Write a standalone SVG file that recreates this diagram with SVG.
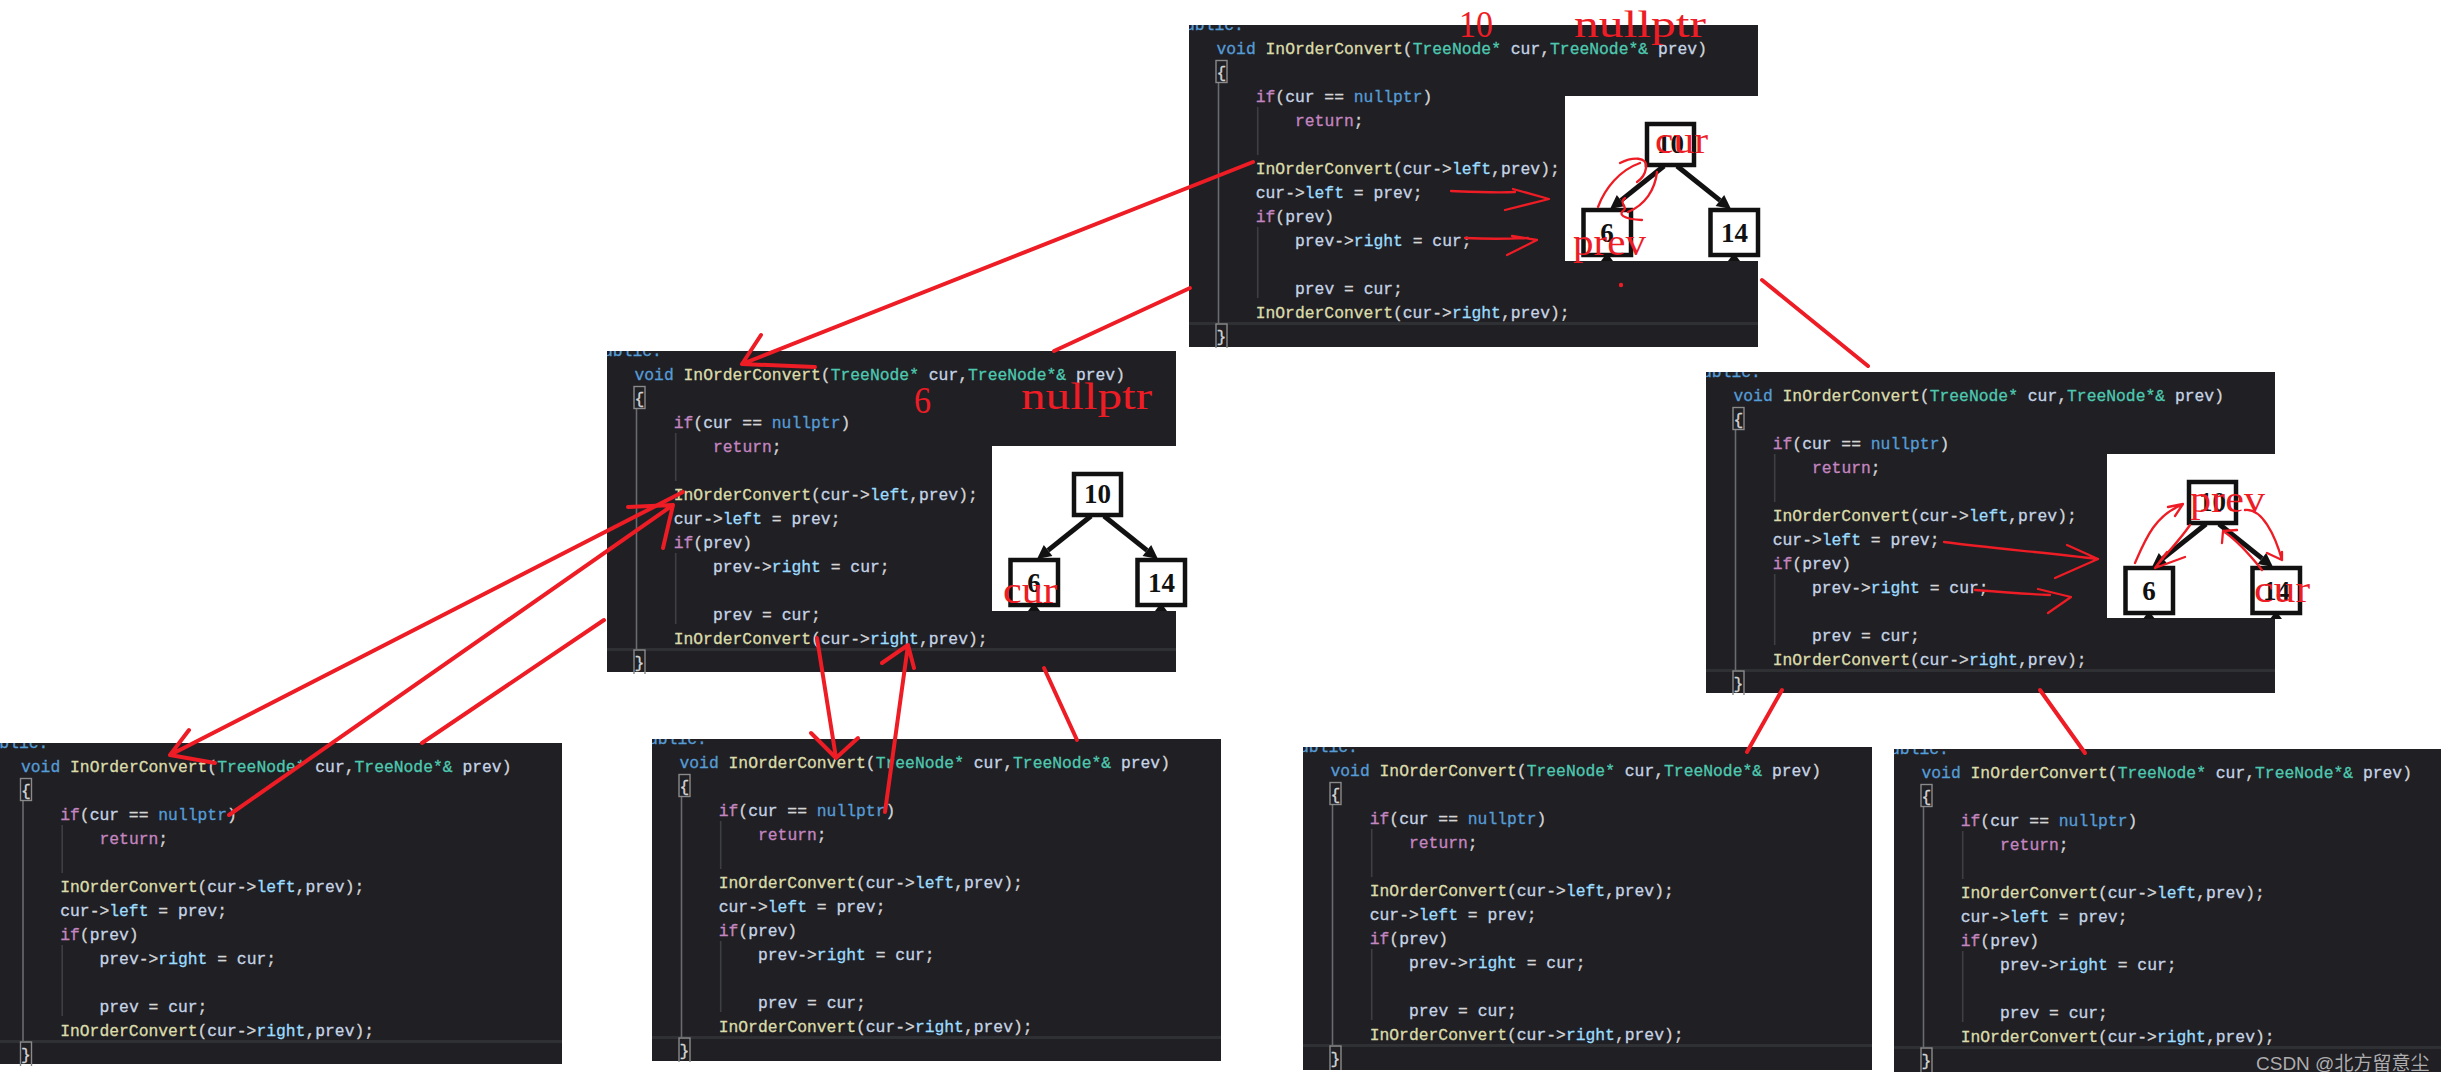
<svg xmlns="http://www.w3.org/2000/svg" width="2444" height="1083" viewBox="0 0 2444 1083">
<style>
.bg{fill:#1f1f24}
.c{font-family:"Liberation Mono",monospace;font-size:16.35px;fill:#d4d4d4;stroke:#d4d4d4;stroke-width:0.3;white-space:pre}
.k{fill:#c586c0;stroke:#c586c0}.b{fill:#569cd6;stroke:#569cd6}.f{fill:#dcdcaa;stroke:#dcdcaa}.t{fill:#4ec9b0;stroke:#4ec9b0}.v{fill:#c6d4e6;stroke:#c6d4e6}.m{fill:#9cdcfe;stroke:#9cdcfe}
.hl{fill:#2f3034}
.g1{stroke:#6a6b6e;stroke-width:1.6}
.g2{stroke:#3e3f43;stroke-width:1.6}
.br{fill:none;stroke:#8a8a8a;stroke-width:1.4}
.timg{fill:#ffffff}
.tbox{fill:#ffffff;stroke:#111;stroke-width:4.5}
.tedge{stroke:#111;stroke-width:5}
.tnum{font-family:"Liberation Serif",serif;font-weight:bold;font-size:27px;fill:#111;text-anchor:middle}
.red{fill:none;stroke:#ee1c24;stroke-width:4;stroke-linecap:round;stroke-linejoin:round}
.redt{fill:none;stroke:#ee1c24;stroke-width:2.3;stroke-linecap:round;stroke-linejoin:round}
.rt{font-family:"Liberation Serif",serif;font-size:38px;fill:#ee1c24}
.wm{font-family:"Liberation Sans","Noto Sans CJK SC",sans-serif;font-size:19px;fill:#c8c8c8;fill-opacity:0.85}
</style>
<defs>
<clipPath id="cp"><rect x="0" y="0" width="570" height="323"/></clipPath>
</defs>
<rect width="2444" height="1083" fill="#ffffff"/>

<g id="panel-1" transform="translate(1189,25)">
<rect class="bg" width="569" height="322"/>
<g clip-path="url(#cp)">
<text class="c b" x="-4" y="5">ublic:</text>
<rect class="hl" x="0" y="297" width="569" height="3"/>
<line class="g1" x1="29.5" y1="57.5" x2="29.5" y2="298"/>
<line class="g2" x1="68.7" y1="82" x2="68.7" y2="130"/>
<line class="g2" x1="68.7" y1="202" x2="68.7" y2="273"/>
<rect class="br" x="27" y="35.5" width="11" height="22"/>
<rect class="br" x="27" y="299" width="11" height="30"/>
<text class="c" x="27.5" y="28.5"><tspan class="b">void</tspan> <tspan class="f">InOrderConvert</tspan>(<tspan class="t">TreeNode*</tspan> <tspan class="v">cur</tspan>,<tspan class="t">TreeNode*&amp;</tspan> <tspan class="v">prev</tspan>)</text>
<text class="c" x="27.5" y="52.5">{</text>
<text class="c" x="66.7" y="76.5"><tspan class="k">if</tspan>(<tspan class="v">cur</tspan> == <tspan class="b">nullptr</tspan>)</text>
<text class="c" x="106" y="100.5"><tspan class="k">return</tspan>;</text>
<text class="c" x="66.7" y="148.5"><tspan class="f">InOrderConvert</tspan>(<tspan class="v">cur</tspan>-&gt;<tspan class="m">left</tspan>,<tspan class="v">prev</tspan>);</text>
<text class="c" x="66.7" y="172.5"><tspan class="v">cur</tspan>-&gt;<tspan class="m">left</tspan> = <tspan class="v">prev</tspan>;</text>
<text class="c" x="66.7" y="196.5"><tspan class="k">if</tspan>(<tspan class="v">prev</tspan>)</text>
<text class="c" x="106" y="220.5"><tspan class="v">prev</tspan>-&gt;<tspan class="m">right</tspan> = <tspan class="v">cur</tspan>;</text>
<text class="c" x="106" y="268.5"><tspan class="v">prev</tspan> = <tspan class="v">cur</tspan>;</text>
<text class="c" x="66.7" y="292.5"><tspan class="f">InOrderConvert</tspan>(<tspan class="v">cur</tspan>-&gt;<tspan class="m">right</tspan>,<tspan class="v">prev</tspan>);</text>
<text class="c" x="27.5" y="316.5">}</text>
</g>
</g>

<g id="panel-2" transform="translate(607,351)">
<rect class="bg" width="569" height="321"/>
<g clip-path="url(#cp)">
<text class="c b" x="-4" y="5">ublic:</text>
<rect class="hl" x="0" y="297" width="569" height="3"/>
<line class="g1" x1="29.5" y1="57.5" x2="29.5" y2="298"/>
<line class="g2" x1="68.7" y1="82" x2="68.7" y2="130"/>
<line class="g2" x1="68.7" y1="202" x2="68.7" y2="273"/>
<rect class="br" x="27" y="35.5" width="11" height="22"/>
<rect class="br" x="27" y="299" width="11" height="30"/>
<text class="c" x="27.5" y="28.5"><tspan class="b">void</tspan> <tspan class="f">InOrderConvert</tspan>(<tspan class="t">TreeNode*</tspan> <tspan class="v">cur</tspan>,<tspan class="t">TreeNode*&amp;</tspan> <tspan class="v">prev</tspan>)</text>
<text class="c" x="27.5" y="52.5">{</text>
<text class="c" x="66.7" y="76.5"><tspan class="k">if</tspan>(<tspan class="v">cur</tspan> == <tspan class="b">nullptr</tspan>)</text>
<text class="c" x="106" y="100.5"><tspan class="k">return</tspan>;</text>
<text class="c" x="66.7" y="148.5"><tspan class="f">InOrderConvert</tspan>(<tspan class="v">cur</tspan>-&gt;<tspan class="m">left</tspan>,<tspan class="v">prev</tspan>);</text>
<text class="c" x="66.7" y="172.5"><tspan class="v">cur</tspan>-&gt;<tspan class="m">left</tspan> = <tspan class="v">prev</tspan>;</text>
<text class="c" x="66.7" y="196.5"><tspan class="k">if</tspan>(<tspan class="v">prev</tspan>)</text>
<text class="c" x="106" y="220.5"><tspan class="v">prev</tspan>-&gt;<tspan class="m">right</tspan> = <tspan class="v">cur</tspan>;</text>
<text class="c" x="106" y="268.5"><tspan class="v">prev</tspan> = <tspan class="v">cur</tspan>;</text>
<text class="c" x="66.7" y="292.5"><tspan class="f">InOrderConvert</tspan>(<tspan class="v">cur</tspan>-&gt;<tspan class="m">right</tspan>,<tspan class="v">prev</tspan>);</text>
<text class="c" x="27.5" y="316.5">}</text>
</g>
</g>

<g id="panel-3" transform="translate(1706,372)">
<rect class="bg" width="569" height="321"/>
<g clip-path="url(#cp)">
<text class="c b" x="-4" y="5">ublic:</text>
<rect class="hl" x="0" y="297" width="569" height="3"/>
<line class="g1" x1="29.5" y1="57.5" x2="29.5" y2="298"/>
<line class="g2" x1="68.7" y1="82" x2="68.7" y2="130"/>
<line class="g2" x1="68.7" y1="202" x2="68.7" y2="273"/>
<rect class="br" x="27" y="35.5" width="11" height="22"/>
<rect class="br" x="27" y="299" width="11" height="30"/>
<text class="c" x="27.5" y="28.5"><tspan class="b">void</tspan> <tspan class="f">InOrderConvert</tspan>(<tspan class="t">TreeNode*</tspan> <tspan class="v">cur</tspan>,<tspan class="t">TreeNode*&amp;</tspan> <tspan class="v">prev</tspan>)</text>
<text class="c" x="27.5" y="52.5">{</text>
<text class="c" x="66.7" y="76.5"><tspan class="k">if</tspan>(<tspan class="v">cur</tspan> == <tspan class="b">nullptr</tspan>)</text>
<text class="c" x="106" y="100.5"><tspan class="k">return</tspan>;</text>
<text class="c" x="66.7" y="148.5"><tspan class="f">InOrderConvert</tspan>(<tspan class="v">cur</tspan>-&gt;<tspan class="m">left</tspan>,<tspan class="v">prev</tspan>);</text>
<text class="c" x="66.7" y="172.5"><tspan class="v">cur</tspan>-&gt;<tspan class="m">left</tspan> = <tspan class="v">prev</tspan>;</text>
<text class="c" x="66.7" y="196.5"><tspan class="k">if</tspan>(<tspan class="v">prev</tspan>)</text>
<text class="c" x="106" y="220.5"><tspan class="v">prev</tspan>-&gt;<tspan class="m">right</tspan> = <tspan class="v">cur</tspan>;</text>
<text class="c" x="106" y="268.5"><tspan class="v">prev</tspan> = <tspan class="v">cur</tspan>;</text>
<text class="c" x="66.7" y="292.5"><tspan class="f">InOrderConvert</tspan>(<tspan class="v">cur</tspan>-&gt;<tspan class="m">right</tspan>,<tspan class="v">prev</tspan>);</text>
<text class="c" x="27.5" y="316.5">}</text>
</g>
</g>

<g id="panel-4" transform="translate(-6.5,743)">
<rect class="bg" width="568.5" height="321"/>
<g clip-path="url(#cp)">
<text class="c b" x="-4" y="5">ublic:</text>
<rect class="hl" x="0" y="297" width="568.5" height="3"/>
<line class="g1" x1="29.5" y1="57.5" x2="29.5" y2="298"/>
<line class="g2" x1="68.7" y1="82" x2="68.7" y2="130"/>
<line class="g2" x1="68.7" y1="202" x2="68.7" y2="273"/>
<rect class="br" x="27" y="35.5" width="11" height="22"/>
<rect class="br" x="27" y="299" width="11" height="30"/>
<text class="c" x="27.5" y="28.5"><tspan class="b">void</tspan> <tspan class="f">InOrderConvert</tspan>(<tspan class="t">TreeNode*</tspan> <tspan class="v">cur</tspan>,<tspan class="t">TreeNode*&amp;</tspan> <tspan class="v">prev</tspan>)</text>
<text class="c" x="27.5" y="52.5">{</text>
<text class="c" x="66.7" y="76.5"><tspan class="k">if</tspan>(<tspan class="v">cur</tspan> == <tspan class="b">nullptr</tspan>)</text>
<text class="c" x="106" y="100.5"><tspan class="k">return</tspan>;</text>
<text class="c" x="66.7" y="148.5"><tspan class="f">InOrderConvert</tspan>(<tspan class="v">cur</tspan>-&gt;<tspan class="m">left</tspan>,<tspan class="v">prev</tspan>);</text>
<text class="c" x="66.7" y="172.5"><tspan class="v">cur</tspan>-&gt;<tspan class="m">left</tspan> = <tspan class="v">prev</tspan>;</text>
<text class="c" x="66.7" y="196.5"><tspan class="k">if</tspan>(<tspan class="v">prev</tspan>)</text>
<text class="c" x="106" y="220.5"><tspan class="v">prev</tspan>-&gt;<tspan class="m">right</tspan> = <tspan class="v">cur</tspan>;</text>
<text class="c" x="106" y="268.5"><tspan class="v">prev</tspan> = <tspan class="v">cur</tspan>;</text>
<text class="c" x="66.7" y="292.5"><tspan class="f">InOrderConvert</tspan>(<tspan class="v">cur</tspan>-&gt;<tspan class="m">right</tspan>,<tspan class="v">prev</tspan>);</text>
<text class="c" x="27.5" y="316.5">}</text>
</g>
</g>

<g id="panel-5" transform="translate(652,739)">
<rect class="bg" width="569" height="322"/>
<g clip-path="url(#cp)">
<text class="c b" x="-4" y="5">ublic:</text>
<rect class="hl" x="0" y="297" width="569" height="3"/>
<line class="g1" x1="29.5" y1="57.5" x2="29.5" y2="298"/>
<line class="g2" x1="68.7" y1="82" x2="68.7" y2="130"/>
<line class="g2" x1="68.7" y1="202" x2="68.7" y2="273"/>
<rect class="br" x="27" y="35.5" width="11" height="22"/>
<rect class="br" x="27" y="299" width="11" height="30"/>
<text class="c" x="27.5" y="28.5"><tspan class="b">void</tspan> <tspan class="f">InOrderConvert</tspan>(<tspan class="t">TreeNode*</tspan> <tspan class="v">cur</tspan>,<tspan class="t">TreeNode*&amp;</tspan> <tspan class="v">prev</tspan>)</text>
<text class="c" x="27.5" y="52.5">{</text>
<text class="c" x="66.7" y="76.5"><tspan class="k">if</tspan>(<tspan class="v">cur</tspan> == <tspan class="b">nullptr</tspan>)</text>
<text class="c" x="106" y="100.5"><tspan class="k">return</tspan>;</text>
<text class="c" x="66.7" y="148.5"><tspan class="f">InOrderConvert</tspan>(<tspan class="v">cur</tspan>-&gt;<tspan class="m">left</tspan>,<tspan class="v">prev</tspan>);</text>
<text class="c" x="66.7" y="172.5"><tspan class="v">cur</tspan>-&gt;<tspan class="m">left</tspan> = <tspan class="v">prev</tspan>;</text>
<text class="c" x="66.7" y="196.5"><tspan class="k">if</tspan>(<tspan class="v">prev</tspan>)</text>
<text class="c" x="106" y="220.5"><tspan class="v">prev</tspan>-&gt;<tspan class="m">right</tspan> = <tspan class="v">cur</tspan>;</text>
<text class="c" x="106" y="268.5"><tspan class="v">prev</tspan> = <tspan class="v">cur</tspan>;</text>
<text class="c" x="66.7" y="292.5"><tspan class="f">InOrderConvert</tspan>(<tspan class="v">cur</tspan>-&gt;<tspan class="m">right</tspan>,<tspan class="v">prev</tspan>);</text>
<text class="c" x="27.5" y="316.5">}</text>
</g>
</g>

<g id="panel-6" transform="translate(1303,747)">
<rect class="bg" width="569" height="323"/>
<g clip-path="url(#cp)">
<text class="c b" x="-4" y="5">ublic:</text>
<rect class="hl" x="0" y="297" width="569" height="3"/>
<line class="g1" x1="29.5" y1="57.5" x2="29.5" y2="298"/>
<line class="g2" x1="68.7" y1="82" x2="68.7" y2="130"/>
<line class="g2" x1="68.7" y1="202" x2="68.7" y2="273"/>
<rect class="br" x="27" y="35.5" width="11" height="22"/>
<rect class="br" x="27" y="299" width="11" height="30"/>
<text class="c" x="27.5" y="28.5"><tspan class="b">void</tspan> <tspan class="f">InOrderConvert</tspan>(<tspan class="t">TreeNode*</tspan> <tspan class="v">cur</tspan>,<tspan class="t">TreeNode*&amp;</tspan> <tspan class="v">prev</tspan>)</text>
<text class="c" x="27.5" y="52.5">{</text>
<text class="c" x="66.7" y="76.5"><tspan class="k">if</tspan>(<tspan class="v">cur</tspan> == <tspan class="b">nullptr</tspan>)</text>
<text class="c" x="106" y="100.5"><tspan class="k">return</tspan>;</text>
<text class="c" x="66.7" y="148.5"><tspan class="f">InOrderConvert</tspan>(<tspan class="v">cur</tspan>-&gt;<tspan class="m">left</tspan>,<tspan class="v">prev</tspan>);</text>
<text class="c" x="66.7" y="172.5"><tspan class="v">cur</tspan>-&gt;<tspan class="m">left</tspan> = <tspan class="v">prev</tspan>;</text>
<text class="c" x="66.7" y="196.5"><tspan class="k">if</tspan>(<tspan class="v">prev</tspan>)</text>
<text class="c" x="106" y="220.5"><tspan class="v">prev</tspan>-&gt;<tspan class="m">right</tspan> = <tspan class="v">cur</tspan>;</text>
<text class="c" x="106" y="268.5"><tspan class="v">prev</tspan> = <tspan class="v">cur</tspan>;</text>
<text class="c" x="66.7" y="292.5"><tspan class="f">InOrderConvert</tspan>(<tspan class="v">cur</tspan>-&gt;<tspan class="m">right</tspan>,<tspan class="v">prev</tspan>);</text>
<text class="c" x="27.5" y="316.5">}</text>
</g>
</g>

<g id="panel-7" transform="translate(1894,749)">
<rect class="bg" width="547" height="323"/>
<g clip-path="url(#cp)">
<text class="c b" x="-4" y="5">ublic:</text>
<rect class="hl" x="0" y="297" width="547" height="3"/>
<line class="g1" x1="29.5" y1="57.5" x2="29.5" y2="298"/>
<line class="g2" x1="68.7" y1="82" x2="68.7" y2="130"/>
<line class="g2" x1="68.7" y1="202" x2="68.7" y2="273"/>
<rect class="br" x="27" y="35.5" width="11" height="22"/>
<rect class="br" x="27" y="299" width="11" height="30"/>
<text class="c" x="27.5" y="28.5"><tspan class="b">void</tspan> <tspan class="f">InOrderConvert</tspan>(<tspan class="t">TreeNode*</tspan> <tspan class="v">cur</tspan>,<tspan class="t">TreeNode*&amp;</tspan> <tspan class="v">prev</tspan>)</text>
<text class="c" x="27.5" y="52.5">{</text>
<text class="c" x="66.7" y="76.5"><tspan class="k">if</tspan>(<tspan class="v">cur</tspan> == <tspan class="b">nullptr</tspan>)</text>
<text class="c" x="106" y="100.5"><tspan class="k">return</tspan>;</text>
<text class="c" x="66.7" y="148.5"><tspan class="f">InOrderConvert</tspan>(<tspan class="v">cur</tspan>-&gt;<tspan class="m">left</tspan>,<tspan class="v">prev</tspan>);</text>
<text class="c" x="66.7" y="172.5"><tspan class="v">cur</tspan>-&gt;<tspan class="m">left</tspan> = <tspan class="v">prev</tspan>;</text>
<text class="c" x="66.7" y="196.5"><tspan class="k">if</tspan>(<tspan class="v">prev</tspan>)</text>
<text class="c" x="106" y="220.5"><tspan class="v">prev</tspan>-&gt;<tspan class="m">right</tspan> = <tspan class="v">cur</tspan>;</text>
<text class="c" x="106" y="268.5"><tspan class="v">prev</tspan> = <tspan class="v">cur</tspan>;</text>
<text class="c" x="66.7" y="292.5"><tspan class="f">InOrderConvert</tspan>(<tspan class="v">cur</tspan>-&gt;<tspan class="m">right</tspan>,<tspan class="v">prev</tspan>);</text>
<text class="c" x="27.5" y="316.5">}</text>
</g>
</g>

<g id="tree-1" transform="translate(1565,96)">
<rect class="timg" width="193" height="165"/>
<line class="tedge" x1="99" y1="70" x2="56" y2="104.4"/>
<polygon points="45,113 60.4,109.9 51.8,98.9" fill="#111"/>
<line class="tedge" x1="112" y1="70" x2="155" y2="104.4"/>
<polygon points="166,113 150.6,109.9 159.2,98.9" fill="#111"/>
<rect class="tbox" x="82" y="28" width="47" height="41"/>
<rect class="tbox" x="18.5" y="114" width="47.5" height="45"/>
<rect class="tbox" x="145.5" y="114" width="47.5" height="45"/>
<polygon points="36,165 42,157 48,165" fill="#111"/>
<polygon points="163,165 169,157 175,165" fill="#111"/>
<text class="tnum" x="105.5" y="57">10</text>
<text class="tnum" x="42" y="146">6</text>
<text class="tnum" x="169.5" y="146">14</text>
</g>

<g id="tree-2" transform="translate(992,446)">
<rect class="timg" width="184" height="165"/>
<line class="tedge" x1="99" y1="70" x2="56" y2="104.4"/>
<polygon points="45,113 60.4,109.9 51.8,98.9" fill="#111"/>
<line class="tedge" x1="112" y1="70" x2="155" y2="104.4"/>
<polygon points="166,113 150.6,109.9 159.2,98.9" fill="#111"/>
<rect class="tbox" x="82" y="28" width="47" height="41"/>
<rect class="tbox" x="18.5" y="114" width="47.5" height="45"/>
<rect class="tbox" x="145.5" y="114" width="47.5" height="45"/>
<polygon points="36,165 42,157 48,165" fill="#111"/>
<polygon points="163,165 169,157 175,165" fill="#111"/>
<text class="tnum" x="105.5" y="57">10</text>
<text class="tnum" x="42" y="146">6</text>
<text class="tnum" x="169.5" y="146">14</text>
</g>

<g id="tree-3" transform="translate(2107,454)">
<rect class="timg" width="168" height="164"/>
<line class="tedge" x1="99" y1="70" x2="56" y2="104.4"/>
<polygon points="45,113 60.4,109.9 51.8,98.9" fill="#111"/>
<line class="tedge" x1="112" y1="70" x2="155" y2="104.4"/>
<polygon points="166,113 150.6,109.9 159.2,98.9" fill="#111"/>
<rect class="tbox" x="82" y="28" width="47" height="41"/>
<rect class="tbox" x="18.5" y="114" width="47.5" height="45"/>
<rect class="tbox" x="145.5" y="114" width="47.5" height="45"/>
<polygon points="36,165 42,157 48,165" fill="#111"/>
<polygon points="163,165 169,157 175,165" fill="#111"/>
<text class="tnum" x="105.5" y="57">10</text>
<text class="tnum" x="42" y="146">6</text>
<text class="tnum" x="169.5" y="146">14</text>
</g>

<g id="connectors">
<path class="red" d="M1253,162 L742,364 M761,335 L742,364 L815,367"/>
<path class="red" d="M1190,288 L1054,351"/>
<path class="red" d="M1762,280 L1868,366"/>
<path class="red" d="M683,492 L170,755 M189,730 L170,755 L215,763"/>
<path class="red" d="M229,815 L673,505 M628,507 L673,505 L663,548"/>
<path class="red" d="M422,743 L604,620"/>
<path class="red" d="M817,638 L836,758 M811,733 L836,758 L858,738"/>
<path class="red" d="M885,812 L908,645 M882,663 L908,645 L914,668"/>
<path class="red" d="M1044,668 L1077,740"/>
<path class="red" d="M1782,690 L1747,752"/>
<path class="red" d="M2040,690 L2085,753"/>
</g>

<g id="annotations">
<path class="redt" d="M1451,191 C1475,192 1495,193 1515,192 M1513,189 L1549,199 L1505,210"/>
<path class="redt" d="M1465,238 C1485,239 1505,239 1528,238 M1512,236 L1537,240 L1507,255"/>
<circle cx="1621" cy="285" r="2.2" fill="#ee1c24"/>
<path class="redt" d="M1598,207 C1605,188 1620,170 1640,163"/>
<path class="redt" d="M1620,163 C1632,157 1648,156 1646,168 C1645,175 1640,180 1637,182"/>
<path class="redt" d="M1657,172 C1655,190 1645,205 1628,212"/>
<path class="redt" d="M1625,198 C1618,203 1628,207 1624,210 C1618,214 1622,219 1642,220"/>
<path class="redt" d="M1944,542 C1990,548 2040,552 2098,559 M2067,545 L2098,559 L2055,578"/>
<path class="redt" d="M1975,590 C2000,592 2025,594 2050,595 M2038,589 L2071,597 L2048,613"/>
<path class="redt" d="M2135,563 C2145,540 2155,515 2182,505 M2168,507 L2183,504 L2175,516"/>
<path class="redt" d="M2190,525 C2180,540 2165,555 2155,568 L2185,557 M2155,568 L2167,552"/>
<path class="redt" d="M2262,570 C2250,555 2237,540 2223,531 M2222,543 L2223,531 L2237,530"/>
<path class="redt" d="M2245,510 C2262,508 2275,535 2282,560 M2267,553 L2282,560 L2282,552"/>
<text class="rt" x="1459" y="37" textLength="34" lengthAdjust="spacingAndGlyphs">10</text>
<text class="rt" x="1574" y="37" textLength="132" lengthAdjust="spacingAndGlyphs">nullptr</text>
<text class="rt" x="914" y="413" textLength="17" lengthAdjust="spacingAndGlyphs">6</text>
<text class="rt" x="1021" y="409" textLength="131" lengthAdjust="spacingAndGlyphs">nullptr</text>
<text class="rt" x="1655" y="153" textLength="53" lengthAdjust="spacingAndGlyphs">cur</text>
<text class="rt" x="1573" y="255" textLength="73" lengthAdjust="spacingAndGlyphs">prev</text>
<text class="rt" x="1003" y="603" textLength="54" lengthAdjust="spacingAndGlyphs">cur</text>
<text class="rt" x="2190" y="512" textLength="75" lengthAdjust="spacingAndGlyphs">prev</text>
<text class="rt" x="2254" y="602" textLength="56" lengthAdjust="spacingAndGlyphs">cur</text>
</g>

<text class="wm" x="2256" y="1070">CSDN @北方留意尘</text>
</svg>
